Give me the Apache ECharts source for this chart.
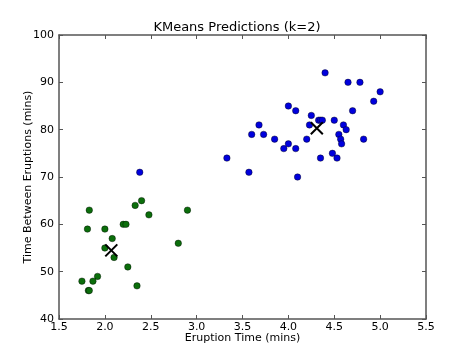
<!DOCTYPE html>
<html>
<head>
<meta charset="utf-8">
<script src="https://cdn.jsdelivr.net/npm/echarts@6/dist/echarts.min.js"></script>
<style>html,body{margin:0;padding:0;background:#fff}#c{width:474px;height:355px}</style>
</head>
<body>
<div id="c"></div>
<script>
const chartTitle = "KMeans Predictions (k=2)";
const xName = "Eruption Time (mins)";
const yName = "Time Between Eruptions (mins)";
const xTicks = [1.5, 2.0, 2.5, 3.0, 3.5, 4.0, 4.5, 5.0, 5.5];
const yTicks = [40, 50, 60, 70, 80, 90, 100];

const cluster0Eruption = [1.83, 2.40, 2.33, 2.48, 2.90, 1.81, 2.00, 2.20, 2.23, 2.08, 2.80, 2.00, 2.10, 2.25, 1.92, 1.87, 1.75, 1.82, 1.83, 2.35];
const cluster0Waiting  = [63, 65, 64, 62, 63, 59, 59, 60, 60, 57, 56, 55, 53, 51, 49, 48, 48, 46, 46, 47];

const cluster1Eruption = [4.40, 4.65, 4.78, 5.00, 4.93, 4.00, 4.08, 4.70, 4.25, 4.33, 4.35, 4.37, 4.50, 3.68, 4.23, 4.60, 4.63, 3.60, 3.73, 4.55, 3.85, 4.20, 4.57, 4.82, 4.58, 4.00, 3.95, 4.08, 4.48, 4.35, 4.53, 3.57, 4.10, 3.33, 2.38];
const cluster1Waiting  = [92, 90, 90, 88, 86, 85, 84, 84, 83, 82, 82, 82, 82, 81, 81, 81, 80, 79, 79, 79, 78, 78, 78, 78, 77, 77, 76, 76, 75, 74, 74, 71, 70, 74, 71];

const centroidEruption = [2.07, 4.31];
const centroidWaiting  = [54.5, 80.3];

const zip = (a, b) => a.map((v, i) => [v, b[i]]);

const chart = echarts.init(document.getElementById('c'));
const font = 'DejaVu Sans';
const frame = '#555555';
const baseAxis = {
  axisLine: { show: true, onZero: false, lineStyle: { color: frame, width: 1.5 } },
  axisTick: { show: true, inside: true, length: 4, lineStyle: { color: frame, width: 1 } },
  splitLine: { show: false }
};
chart.setOption({
  animation: false,
  backgroundColor: '#ffffff',
  title: {
    text: chartTitle, left: 'center', top: 16,
    textStyle: { fontFamily: font, fontSize: 13, fontWeight: 'normal', color: '#000' }
  },
  grid: { left: 59, right: 48, top: 35, bottom: 36 },
  xAxis: [
    Object.assign({}, baseAxis, {
      type: 'value', min: 1.5, max: 5.5, interval: 0.5, position: 'bottom',
      name: xName, nameLocation: 'middle', nameGap: 14, nameMoveOverlap: false,
      nameTextStyle: { fontFamily: font, fontSize: 11, color: '#000' },
      axisLabel: { fontFamily: font, fontSize: 11, color: '#000', margin: 3,
        formatter: v => xTicks.includes(+v.toFixed(1)) ? v.toFixed(1) : '' }
    }),
    Object.assign({}, baseAxis, {
      type: 'value', min: 1.5, max: 5.5, interval: 0.5, position: 'top',
      axisLabel: { show: false }
    })
  ],
  yAxis: [
    Object.assign({}, baseAxis, {
      type: 'value', min: 40, max: 100, interval: 10, position: 'left',
      name: yName, nameLocation: 'middle', nameGap: 25, nameRotate: 90, nameMoveOverlap: false,
      nameTextStyle: { fontFamily: font, fontSize: 11, color: '#000' },
      axisLabel: { fontFamily: font, fontSize: 11, color: '#000', margin: 5,
        formatter: v => yTicks.includes(v) ? String(v) : '' }
    }),
    Object.assign({}, baseAxis, {
      type: 'value', min: 40, max: 100, interval: 10, position: 'right',
      axisLabel: { show: false }
    })
  ],
  series: [
    {
      type: 'scatter', data: zip(cluster0Eruption, cluster0Waiting),
      symbol: 'circle', symbolSize: 6.5,
      itemStyle: { color: '#0b6e0b', borderColor: '#000', borderWidth: 0.4, opacity: 1 }
    },
    {
      type: 'scatter', data: zip(cluster1Eruption, cluster1Waiting),
      symbol: 'circle', symbolSize: 6.5,
      itemStyle: { color: '#0000dd', borderColor: '#000', borderWidth: 0.4, opacity: 1 }
    },
    {
      type: 'scatter', data: zip(centroidEruption, centroidWaiting),
      symbol: 'path://M0,0L10,10M10,0L0,10', symbolSize: 12, z: 5,
      itemStyle: { color: 'rgba(0,0,0,0)', borderColor: '#000', borderWidth: 2, opacity: 1 }
    }
  ]
});
</script>
</body>
</html>
